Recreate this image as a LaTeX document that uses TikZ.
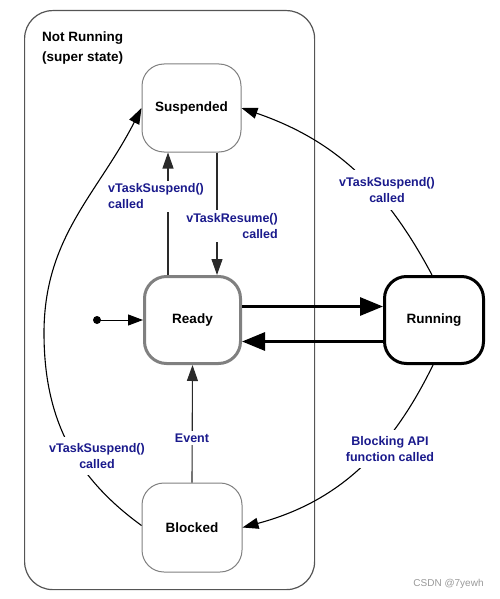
\documentclass[tikz,border=0pt]{standalone}
\usepackage{fontspec}
\setmainfont{Liberation Sans}
\usetikzlibrary{arrows.meta}
\definecolor{lbl}{HTML}{1A1A8C}
\definecolor{sgray}{HTML}{808080}
\definecolor{dgray}{HTML}{555555}
\definecolor{lgray}{HTML}{2A2A2A}
\begin{document}
\begin{tikzpicture}[x=1pt,y=1pt,
  stxt/.style={font=\fontsize{13.5}{16}\selectfont\bfseries, align=center},
  plainst/.style={stxt, draw=sgray, line width=1pt, rounded corners=22pt, minimum width=99pt, minimum height=88pt, fill=white},
  readyst/.style={stxt, draw=sgray, line width=3pt, rounded corners=22pt, minimum width=96pt, minimum height=87pt, fill=white},
  runst/.style={stxt, draw=black, line width=3pt, rounded corners=22pt, minimum width=99pt, minimum height=87pt, fill=white},
  lab/.style={font=\fontsize{12.5}{16}\selectfont\bfseries, text=lbl, fill=white, inner sep=3pt},
  thinarr/.style={line width=1.1pt, -{Triangle[length=16pt,width=11pt]}},
  thickarr/.style={line width=3pt, -{Triangle[length=23pt,width=18pt]}}]
\useasboundingbox (0,0) rectangle (500,-599);
% super state
\node[draw=dgray, line width=1.2pt, rounded corners=28pt, minimum width=290pt, minimum height=579pt, anchor=north west] (super) at (24,-10) {};
\node[stxt, align=left, anchor=north west, inner sep=0pt, font=\fontsize{13.5}{20}\selectfont\bfseries] (supertxt) at (42,-32) {Not Running\\(super state)};
% states
\node[plainst] (susp) at (191.5,-108) {Suspended};
\node[readyst] (ready) at (192.5,-320) {Ready};
\node[runst] (run) at (434,-320) {Running};
\node[plainst, minimum height=89pt, minimum width=100pt] (blk) at (192,-527.5) {Blocked};
% initial
\fill (97,-320) circle (4pt) coordinate (init);
\draw[thinarr, line width=1pt, -{Triangle[length=15pt,width=11pt]}] (init) -- (ready.west);
% ready <-> running
\draw[thickarr] ([yshift=13.5pt]ready.east) -- ([yshift=13.5pt]run.west);
\draw[thickarr] ([yshift=-21.5pt]run.west) -- ([yshift=-21.5pt]ready.east);
% ready <-> suspended
\draw[thinarr, draw=lgray] ([xshift=-24.5pt]ready.north) -- ([xshift=-23.5pt]susp.south);
\draw[thinarr, draw=lgray] ([xshift=25.5pt]susp.south) -- ([xshift=24.5pt]ready.north);
% blocked -> ready
\draw[thinarr, draw=lgray] (blk.north) -- (ready.south);
% curves
\draw[thinarr] ([xshift=-2pt]run.north) to[out=118,in=-19] (susp.east);
\draw[thinarr] ([xshift=-1pt]run.south) to[out=-116,in=15] (blk.east);
\draw[thinarr] ([yshift=2pt]blk.west) to[out=144,in=-90] (44,-333) to[out=90,in=-117] (susp.west);
% labels
\node[lab, align=left, anchor=west] (l1) at (105,-196.5) {vTaskSuspend()\\called};
\node[lab, align=right, anchor=east] (l2) at (281,-226) {vTaskResume()\\called};
\node[lab, align=center, inner ysep=7pt] (l3) at (387,-190) {vTaskSuspend()\\called};
\node[lab, align=center] (l4) at (192,-438) {Event};
\node[lab, align=center, inner ysep=6pt] (l5) at (97,-456) {vTaskSuspend()\\called};
\node[lab, align=center, inner ysep=6pt] (l6) at (390,-449) {Blocking API\\function called};
\node[font=\fontsize{10}{12}\selectfont, text=black!40] (wm) at (448.5,-584) {CSDN @7yewh};
\end{tikzpicture}
\end{document}
